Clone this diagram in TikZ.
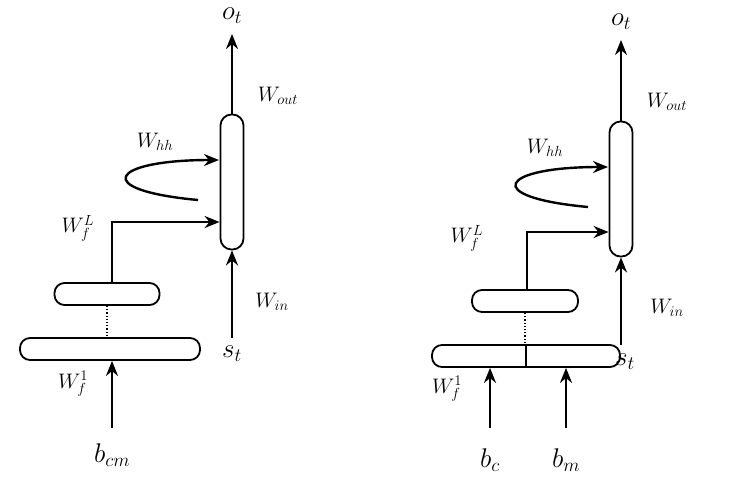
\documentclass[tikz,border=0pt]{standalone}
\usepackage{fix-cm}
\usetikzlibrary{arrows.meta}
\begin{document}
\begin{tikzpicture}[x=1pt,y=-1pt,
  ar/.style={line width=2.4pt,-{Stealth[length=15pt,width=12pt]}},
  rbox/.style={draw,line width=1.8pt,rounded corners=10pt,minimum height=22pt,inner sep=0pt},
  vbox/.style={draw,line width=1.8pt,rounded corners=11pt,minimum width=23pt,inner sep=0pt},
  lab/.style={font=\fontsize{21}{24}\selectfont,inner sep=0.5pt},
  big/.style={font=\fontsize{27}{30}\selectfont,inner sep=0.5pt}]
\useasboundingbox (0,0) rectangle (733,480);
% ---- left
\node[vbox,minimum height=135pt] (h1) at (232,182) {};
\node[big] (o1) at (232,16) {$o_t$};
\node[big] (s1) at (232,354) {$s_t$};
\coordinate (s1a) at (232,338);
\coordinate (o1a) at (232,34);
\draw[ar] (s1a) -- (h1.south);
\draw[ar] (h1.north) -- (o1a);
\node[lab] at (278,96) {$W_{out}$};
\node[lab] at (272,302) {$W_{in}$};
\node[lab] at (155,142) {$W_{hh}$};
\coordinate (c1s) at (198,200);
\coordinate (c1e) at (219,160);
\draw[ar] (c1s) .. controls (90,190) and (110,160) .. (c1e);
\node[rbox,minimum width=105pt] (sb1) at (107,294) {};
\node[rbox,minimum width=180pt] (bb1) at (110,349) {};
\draw[line width=1.2pt,dotted] (sb1.south) -- (sb1.south|-bb1.north);
\coordinate (e1) at (112,222);
\draw[ar] (sb1.north-|e1) -- (e1) -- (h1.west|-e1);
\node[lab] at (78,228) {$W_f^L$};
\node[lab] at (73,384) {$W_f^1$};
\node[big] (b1) at (112,455) {$b_{cm}$};
\coordinate (b1a) at (112,428);
\draw[ar] (b1a) -- (bb1.south-|b1a);
% ---- right
\node[vbox,minimum height=135pt] (h2) at (621,189) {};
\node[big] (o2) at (621,22) {$o_t$};
\node[big] (s2) at (625,362) {$s_t$};
\coordinate (s2a) at (621,345);
\coordinate (o2a) at (621,40);
\draw[ar] (s2a) -- (h2.south);
\draw[ar] (h2.north) -- (o2a);
\node[lab] at (667,102) {$W_{out}$};
\node[lab] at (667,308) {$W_{in}$};
\node[lab] at (545,148) {$W_{hh}$};
\coordinate (c2s) at (588,207);
\coordinate (c2e) at (608,167);
\draw[ar] (c2s) .. controls (480,197) and (500,167) .. (c2e);
\node[rbox,minimum width=106pt] (sb2) at (525,301) {};
\node[rbox,minimum width=188pt] (bb2) at (526,356) {};
\draw[line width=1.2pt,dotted] (sb2.south) -- (sb2.south|-bb2.north);
\draw[line width=1.8pt] (bb2.north) -- (bb2.south);
\coordinate (e2) at (527,232);
\draw[ar] (sb2.north-|e2) -- (e2) -- (h2.west|-e2);
\node[lab] at (467,238) {$W_f^L$};
\node[lab] at (447,389) {$W_f^1$};
\node[big] (bc) at (490,460) {$b_c$};
\node[big] (bm) at (566,460) {$b_m$};
\coordinate (bca) at (490,428);
\coordinate (bma) at (566,428);
\draw[ar] (bca) -- (bb2.south-|bca);
\draw[ar] (bma) -- (bb2.south-|bma);
\end{tikzpicture}
\end{document}
